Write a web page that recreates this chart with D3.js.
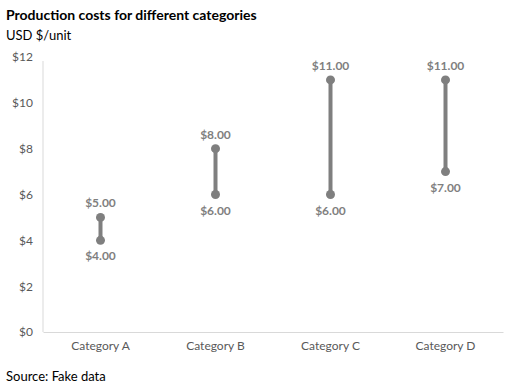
<!DOCTYPE html>
<html>
<head>
<meta charset="utf-8">
<script src="https://cdn.jsdelivr.net/npm/d3@7"></script>
<style>
  body { margin: 0; background: #fff; }
  text { font-family: Lato, "Open Sans", sans-serif; }
</style>
</head>
<body>
<div id="chart"></div>
<script>
// data
const categories = ['Category A', 'Category B', 'Category C', 'Category D'];
const lowValues = [4, 6, 6, 7];
const highValues = [5, 8, 11, 11];
const yTicks = [0, 2, 4, 6, 8, 10, 12];

const width = 507, height = 392;
const margin = {top: 57, right: 4, bottom: 60, left: 43};

const svg = d3.select('#chart').append('svg')
    .attr('width', width)
    .attr('height', height);

const x = d3.scaleBand()
    .domain(categories)
    .range([margin.left, width - margin.right]);

const y = d3.scaleLinear()
    .domain([0, 12])
    .range([height - margin.bottom, margin.top]);

const grey = '#7f7f7f';

// title + subtitle
svg.append('text')
    .attr('x', 6).attr('y', 20)
    .style('font-size', '14px')
    .style('font-weight', 'bold')
    .attr('fill', '#000')
    .text('Production costs for different categories');

svg.append('text')
    .attr('x', 6).attr('y', 40)
    .style('font-size', '13px')
    .attr('fill', '#000')
    .text('USD $/unit');

// y axis
const yAxis = svg.append('g')
    .attr('transform', `translate(${margin.left},0)`)
    .call(d3.axisLeft(y).tickValues(yTicks).tickSize(0).tickPadding(10)
        .tickFormat(d => '$' + d));
yAxis.select('.domain').attr('stroke', '#d9d9d9').attr('d', `M0,${y(12) + 4}V${y(0)}`);
yAxis.selectAll('text').attr('fill', '#595959').style('font-size', '12px');

// x axis
const xAxis = svg.append('g')
    .attr('transform', `translate(0,${y(0)})`)
    .call(d3.axisBottom(x).tickSize(0).tickPadding(9));
xAxis.select('.domain').attr('stroke', '#d9d9d9');
xAxis.selectAll('text').attr('fill', '#595959').style('font-size', '12px');

const rows = categories.map((c, i) => ({cat: c, lo: lowValues[i], hi: highValues[i]}));
const cx = d => x(d.cat) + x.bandwidth() / 2;
const fmt = v => '$' + v.toFixed(2);

// range lines
svg.selectAll('.range')
    .data(rows)
    .join('line')
    .attr('x1', cx).attr('x2', cx)
    .attr('y1', d => y(d.lo)).attr('y2', d => y(d.hi))
    .attr('stroke', grey)
    .attr('stroke-width', 4);

// dots
svg.selectAll('.lo-dot')
    .data(rows)
    .join('circle')
    .attr('cx', cx).attr('cy', d => y(d.lo))
    .attr('r', 4.5).attr('fill', grey);

svg.selectAll('.hi-dot')
    .data(rows)
    .join('circle')
    .attr('cx', cx).attr('cy', d => y(d.hi))
    .attr('r', 4.5).attr('fill', grey);

// labels
svg.selectAll('.hi-label')
    .data(rows)
    .join('text')
    .attr('x', cx).attr('y', d => y(d.hi) - 10)
    .attr('text-anchor', 'middle')
    .style('font-size', '12px').style('font-weight', 'bold')
    .attr('fill', grey)
    .text(d => fmt(d.hi));

svg.selectAll('.lo-label')
    .data(rows)
    .join('text')
    .attr('x', cx).attr('y', d => y(d.lo) + 20)
    .attr('text-anchor', 'middle')
    .style('font-size', '12px').style('font-weight', 'bold')
    .attr('fill', grey)
    .text(d => fmt(d.lo));

// source
svg.append('text')
    .attr('x', 6).attr('y', 381)
    .style('font-size', '13px')
    .attr('fill', '#000')
    .text('Source: Fake data');
</script>
</body>
</html>
